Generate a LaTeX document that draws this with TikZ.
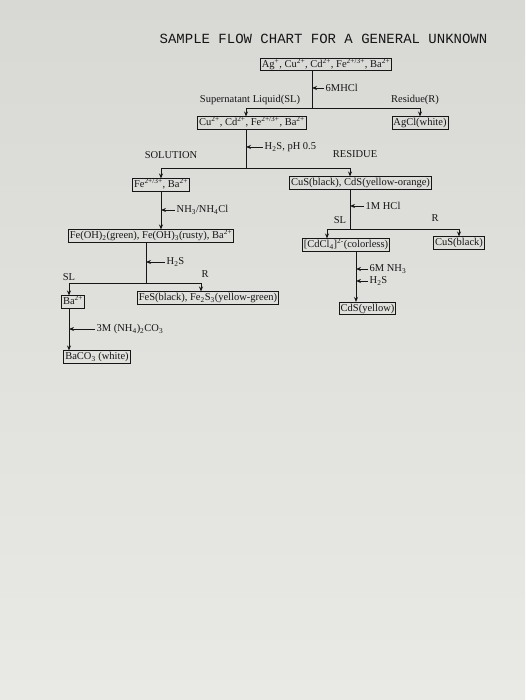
\documentclass[tikz,border=0pt]{standalone}
\usepackage{fontspec}
\setmainfont{Liberation Serif}
\newfontfamily\titelschrift{Liberation Mono}
\usepackage{tikz}
\usetikzlibrary{arrows.meta,calc,positioning}
\definecolor{papier}{RGB}{216,216,213}
\definecolor{papierhell}{RGB}{233,233,230}
\definecolor{tinte}{RGB}{22,22,22}

\begin{document}
\begin{tikzpicture}[x=1pt,y=-1pt,
  box/.style={draw=tinte,text=tinte,line width=0.75pt,inner xsep=1.5pt,inner ysep=1.2pt,
    text height=7.6pt,text depth=2.3pt,font=\fontsize{10.5}{12}\selectfont},
  lab/.style={text=tinte,inner sep=0pt,font=\fontsize{10.5}{12}\selectfont},
  reag/.style={lab,anchor=west,inner sep=1.5pt},
  flow/.style={draw=tinte,line width=0.85pt},
  into/.style={flow,-{Stealth[length=5pt,width=4pt]}}]
%Papier
\shade[top color=papier,bottom color=papierhell] (0,0) rectangle (525,700);
\useasboundingbox (0,0) rectangle (525,700);
\node[text=tinte,inner sep=0pt,font=\titelschrift\fontsize{14}{16}\selectfont] (titel) at (323.5,39) {SAMPLE FLOW CHART FOR A GENERAL UNKNOWN};
%Kasten
\node[box] (mix) at (326,64.5) {Ag\textsuperscript{+}, Cu\textsuperscript{2+}, Cd\textsuperscript{2+}, Fe\textsuperscript{2+/3+}, Ba\textsuperscript{2+}};
\node[box] (sl1) at (252,123) {Cu\textsuperscript{2+}, Cd\textsuperscript{2+}, Fe\textsuperscript{2+/3+}, Ba\textsuperscript{2+}};
\node[box] (agcl) at (420,123) {AgCl(white)};
\node[box] (fe) at (161,185) {Fe\textsuperscript{2+/3+}, Ba\textsuperscript{2+}};
\node[box] (sulf) at (360.5,183) {CuS(black), CdS(yellow-orange)};
\node[box] (feoh) at (151,236) {Fe(OH)\textsubscript{2}(green), Fe(OH)\textsubscript{3}(rusty), Ba\textsuperscript{2+}};
\node[box] (cdcl) at (346,245) {[CdCl\textsubscript{4}]\textsuperscript{2-}(colorless)};
\node[box] (cusb) at (459,243) {CuS(black)};
\node[box] (ba) at (73,302) {Ba\textsuperscript{2+}};
\node[box] (fes) at (208,298) {FeS(black), Fe\textsubscript{2}S\textsubscript{3}(yellow-green)};
\node[box] (cds) at (367.5,308.5) {CdS(yellow)};
\node[box] (baco) at (97,357) {BaCO\textsubscript{3} (white)};
%Beschriftungen
\node[lab] (sllab) at (250,100) {Supernatant Liquid(SL)};
\node[lab] (rlab) at (415,100) {Residue(R)};
\node[lab] (solut) at (171,155) {SOLUTION};
\node[lab] (resid) at (355,154) {RESIDUE};
\node[lab] (sl2) at (340,220) {SL};
\node[lab] (r2) at (435,218) {R};
\node[lab] (sl3) at (69,277) {SL};
\node[lab] (r3) at (205,274) {R};
%Reagenzien
\node[reag] (hcl) at (324,88) {6MHCl};
\node[reag] (hs1) at (263,147) {H\textsubscript{2}S, pH 0.5};
\node[reag] (nh) at (175,210) {NH\textsubscript{3}/NH\textsubscript{4}Cl};
\node[reag] (hcl1) at (364,206) {1M HCl};
\node[reag] (nh6) at (368,269) {6M NH\textsubscript{3}};
\node[reag] (hs3) at (368,281) {H\textsubscript{2}S};
\node[reag] (hs2) at (165,262) {H\textsubscript{2}S};
\node[reag] (carb) at (95,329) {3M (NH\textsubscript{4})\textsubscript{2}CO\textsubscript{3}};
%Verzweigungspunkte
\coordinate (b1) at (312,108);
\coordinate (b2) at (246,168);
\coordinate (b3) at (350,229);
\coordinate (b4) at (146,283);
\coordinate (v5) at (356,275);
\coordinate (v6) at (69,330);
%Linien
\draw[flow] (mix.south -| b1) -- (b1);
\draw[into] (b1) -| (sl1.north -| b2);
\draw[into] (b1) -| (agcl);
\draw[flow] (sl1.south -| b2) -- (b2);
\draw[into] (b2) -| (fe);
\draw[into] (b2) -| (sulf.north -| b3);
\draw[into] (fe) -- (fe |- feoh.north);
\draw[flow] (sulf.south -| b3) -- (b3);
\draw[into] (b3) -| ([xshift=-19pt]cdcl.north);
\draw[into] (b3) -| (cusb);
\draw[into] (cdcl.south -| v5) -- (cds.north -| v5);
\draw[flow] (feoh.south -| b4) -- (b4);
\draw[into] (b4) -| (ba.north -| v6);
\draw[into] (b4) -| ([xshift=-7pt]fes.north);
\draw[into] (ba.south -| v6) -- (baco.north -| v6);
%Pfeile der Reagenzien
\draw[into] (hcl) -- (hcl -| b1);
\draw[into] (hs1) -- (hs1 -| b2);
\draw[into] (nh) -- (nh -| fe);
\draw[into] (hcl1) -- (hcl1 -| b3);
\draw[into] (nh6) -- (nh6 -| v5);
\draw[into] (hs3) -- (hs3 -| v5);
\draw[into] (hs2) -- (hs2 -| b4);
\draw[into] (carb) -- (carb -| v6);
\end{tikzpicture}
\end{document}
